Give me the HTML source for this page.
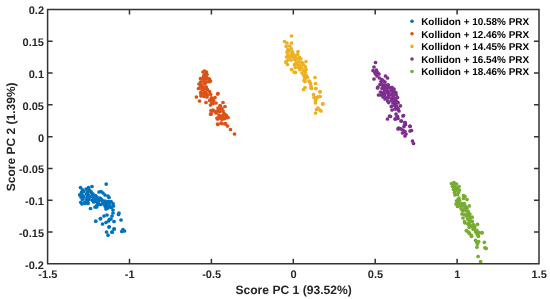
<!DOCTYPE html>
<html><head><meta charset="utf-8"><title>PCA score plot</title>
<style>html,body{margin:0;padding:0;background:#fff;width:550px;height:299px;overflow:hidden}svg{display:block}</style>
</head><body>
<svg width="550" height="299" viewBox="0 0 550 299" font-family="Liberation Sans, Arial, sans-serif" font-weight="bold" text-rendering="geometricPrecision">
<rect width="550" height="299" fill="#fff"/>
<g fill="#0072BD"><circle cx="93.0" cy="194.0" r="1.85"/><circle cx="95.5" cy="195.5" r="1.85"/><circle cx="91.5" cy="192.5" r="1.85"/><circle cx="97.0" cy="197.0" r="1.85"/><circle cx="80.5" cy="187.5" r="1.85"/><circle cx="88.5" cy="187.5" r="1.85"/><circle cx="92.0" cy="186.5" r="1.85"/><circle cx="106.2" cy="184.1" r="1.85"/><circle cx="101.0" cy="191.5" r="1.85"/><circle cx="103.0" cy="193.0" r="1.85"/><circle cx="105.0" cy="195.0" r="1.85"/><circle cx="108.0" cy="196.0" r="1.85"/><circle cx="109.0" cy="197.5" r="1.85"/><circle cx="100.0" cy="198.0" r="1.85"/><circle cx="97.0" cy="199.0" r="1.85"/><circle cx="95.0" cy="200.0" r="1.85"/><circle cx="102.0" cy="200.0" r="1.85"/><circle cx="105.0" cy="201.0" r="1.85"/><circle cx="108.0" cy="201.5" r="1.85"/><circle cx="111.0" cy="201.5" r="1.85"/><circle cx="113.0" cy="203.5" r="1.85"/><circle cx="113.5" cy="206.0" r="1.85"/><circle cx="111.0" cy="207.0" r="1.85"/><circle cx="107.0" cy="204.0" r="1.85"/><circle cx="105.0" cy="206.0" r="1.85"/><circle cx="108.0" cy="208.0" r="1.85"/><circle cx="97.0" cy="205.0" r="1.85"/><circle cx="95.0" cy="207.0" r="1.85"/><circle cx="90.5" cy="208.5" r="1.85"/><circle cx="96.5" cy="207.0" r="1.85"/><circle cx="99.0" cy="192.0" r="1.85"/><circle cx="82.0" cy="204.0" r="1.85"/><circle cx="85.0" cy="203.5" r="1.85"/><circle cx="88.0" cy="203.5" r="1.85"/><circle cx="93.6" cy="202.0" r="1.85"/><circle cx="96.6" cy="206.5" r="1.85"/><circle cx="98.6" cy="204.5" r="1.85"/><circle cx="106.0" cy="209.0" r="1.85"/><circle cx="113.0" cy="210.0" r="1.85"/><circle cx="113.0" cy="213.0" r="1.85"/><circle cx="112.0" cy="216.0" r="1.85"/><circle cx="111.0" cy="219.0" r="1.85"/><circle cx="107.0" cy="215.0" r="1.85"/><circle cx="104.0" cy="216.0" r="1.85"/><circle cx="100.5" cy="218.5" r="1.85"/><circle cx="119.0" cy="213.0" r="1.85"/><circle cx="118.5" cy="214.5" r="1.85"/><circle cx="121.0" cy="220.0" r="1.85"/><circle cx="114.0" cy="221.5" r="1.85"/><circle cx="108.5" cy="221.0" r="1.85"/><circle cx="106.0" cy="222.5" r="1.85"/><circle cx="102.5" cy="224.0" r="1.85"/><circle cx="109.0" cy="227.0" r="1.85"/><circle cx="114.0" cy="229.0" r="1.85"/><circle cx="106.5" cy="232.0" r="1.85"/><circle cx="112.0" cy="232.0" r="1.85"/><circle cx="123.0" cy="229.5" r="1.85"/><circle cx="124.5" cy="231.0" r="1.85"/><circle cx="95.8" cy="221.2" r="1.85"/><circle cx="100.4" cy="218.8" r="1.85"/><circle cx="109.6" cy="219.3" r="1.85"/><circle cx="121.8" cy="231.4" r="1.85"/><circle cx="108.0" cy="235.2" r="1.85"/><circle cx="112.2" cy="232.2" r="1.85"/><circle cx="114.2" cy="228.9" r="1.85"/><circle cx="109.2" cy="226.8" r="1.85"/><circle cx="82.4" cy="189.8" r="1.85"/><circle cx="86.1" cy="189.1" r="1.85"/><circle cx="88.8" cy="189.3" r="1.85"/><circle cx="81.5" cy="192.4" r="1.85"/><circle cx="83.8" cy="191.5" r="1.85"/><circle cx="87.7" cy="191.9" r="1.85"/><circle cx="90.6" cy="191.4" r="1.85"/><circle cx="79.7" cy="194.9" r="1.85"/><circle cx="82.5" cy="195.2" r="1.85"/><circle cx="86.3" cy="194.1" r="1.85"/><circle cx="88.2" cy="194.7" r="1.85"/><circle cx="92.3" cy="194.5" r="1.85"/><circle cx="81.0" cy="197.1" r="1.85"/><circle cx="83.7" cy="196.9" r="1.85"/><circle cx="87.2" cy="197.2" r="1.85"/><circle cx="90.0" cy="196.9" r="1.85"/><circle cx="93.0" cy="197.2" r="1.85"/><circle cx="82.5" cy="199.3" r="1.85"/><circle cx="86.2" cy="199.9" r="1.85"/><circle cx="89.0" cy="199.5" r="1.85"/><circle cx="92.4" cy="200.3" r="1.85"/><circle cx="80.8" cy="202.3" r="1.85"/><circle cx="84.6" cy="202.7" r="1.85"/><circle cx="87.8" cy="202.4" r="1.85"/><circle cx="95.2" cy="199.1" r="1.85"/><circle cx="97.6" cy="199.0" r="1.85"/><circle cx="101.3" cy="199.3" r="1.85"/><circle cx="96.3" cy="201.6" r="1.85"/><circle cx="98.7" cy="201.2" r="1.85"/><circle cx="102.7" cy="201.4" r="1.85"/><circle cx="104.9" cy="201.6" r="1.85"/><circle cx="108.5" cy="201.7" r="1.85"/><circle cx="97.6" cy="204.1" r="1.85"/><circle cx="100.8" cy="204.5" r="1.85"/><circle cx="103.8" cy="204.0" r="1.85"/><circle cx="106.8" cy="203.6" r="1.85"/><circle cx="109.3" cy="204.4" r="1.85"/><circle cx="105.9" cy="206.9" r="1.85"/><circle cx="108.2" cy="206.3" r="1.85"/><circle cx="111.3" cy="207.3" r="1.85"/></g><g fill="#D95319"><circle cx="204.5" cy="71.0" r="1.85"/><circle cx="203.0" cy="72.0" r="1.85"/><circle cx="206.5" cy="72.0" r="1.85"/><circle cx="207.0" cy="74.5" r="1.85"/><circle cx="204.0" cy="75.5" r="1.85"/><circle cx="200.5" cy="78.5" r="1.85"/><circle cx="203.0" cy="78.5" r="1.85"/><circle cx="207.0" cy="78.5" r="1.85"/><circle cx="209.5" cy="79.0" r="1.85"/><circle cx="210.5" cy="81.0" r="1.85"/><circle cx="199.0" cy="84.0" r="1.85"/><circle cx="198.5" cy="88.5" r="1.85"/><circle cx="218.0" cy="93.5" r="1.85"/><circle cx="201.0" cy="96.0" r="1.85"/><circle cx="204.0" cy="96.5" r="1.85"/><circle cx="207.0" cy="97.0" r="1.85"/><circle cx="196.4" cy="97.0" r="1.85"/><circle cx="199.5" cy="101.0" r="1.85"/><circle cx="217.6" cy="94.0" r="1.85"/><circle cx="206.0" cy="102.5" r="1.85"/><circle cx="210.0" cy="100.5" r="1.85"/><circle cx="213.0" cy="99.0" r="1.85"/><circle cx="215.0" cy="97.5" r="1.85"/><circle cx="210.5" cy="105.0" r="1.85"/><circle cx="213.0" cy="103.5" r="1.85"/><circle cx="216.0" cy="103.0" r="1.85"/><circle cx="211.0" cy="110.5" r="1.85"/><circle cx="214.0" cy="111.0" r="1.85"/><circle cx="210.5" cy="114.0" r="1.85"/><circle cx="218.0" cy="108.0" r="1.85"/><circle cx="220.6" cy="106.0" r="1.85"/><circle cx="217.0" cy="112.0" r="1.85"/><circle cx="219.0" cy="115.0" r="1.85"/><circle cx="217.0" cy="118.0" r="1.85"/><circle cx="221.0" cy="117.0" r="1.85"/><circle cx="223.0" cy="102.5" r="1.85"/><circle cx="220.0" cy="105.5" r="1.85"/><circle cx="225.0" cy="106.5" r="1.85"/><circle cx="222.0" cy="108.5" r="1.85"/><circle cx="219.5" cy="109.0" r="1.85"/><circle cx="217.5" cy="111.0" r="1.85"/><circle cx="216.0" cy="113.0" r="1.85"/><circle cx="213.0" cy="110.0" r="1.85"/><circle cx="211.0" cy="114.0" r="1.85"/><circle cx="223.0" cy="111.0" r="1.85"/><circle cx="224.0" cy="114.0" r="1.85"/><circle cx="221.5" cy="116.0" r="1.85"/><circle cx="226.5" cy="116.0" r="1.85"/><circle cx="227.5" cy="117.5" r="1.85"/><circle cx="224.5" cy="118.5" r="1.85"/><circle cx="218.0" cy="118.5" r="1.85"/><circle cx="220.0" cy="118.0" r="1.85"/><circle cx="217.5" cy="124.0" r="1.85"/><circle cx="221.0" cy="123.0" r="1.85"/><circle cx="225.0" cy="124.0" r="1.85"/><circle cx="211.0" cy="114.0" r="1.85"/><circle cx="212.0" cy="111.0" r="1.85"/><circle cx="217.5" cy="119.0" r="1.85"/><circle cx="220.0" cy="117.0" r="1.85"/><circle cx="223.0" cy="116.0" r="1.85"/><circle cx="226.0" cy="115.0" r="1.85"/><circle cx="228.0" cy="117.5" r="1.85"/><circle cx="225.0" cy="118.5" r="1.85"/><circle cx="222.0" cy="119.5" r="1.85"/><circle cx="224.0" cy="113.5" r="1.85"/><circle cx="216.0" cy="111.5" r="1.85"/><circle cx="220.0" cy="111.5" r="1.85"/><circle cx="218.0" cy="124.5" r="1.85"/><circle cx="222.0" cy="123.5" r="1.85"/><circle cx="225.5" cy="123.5" r="1.85"/><circle cx="227.5" cy="126.0" r="1.85"/><circle cx="230.5" cy="129.5" r="1.85"/><circle cx="234.5" cy="134.0" r="1.85"/><circle cx="205.1" cy="74.0" r="1.85"/><circle cx="203.7" cy="76.2" r="1.85"/><circle cx="206.3" cy="77.1" r="1.85"/><circle cx="201.9" cy="79.1" r="1.85"/><circle cx="204.5" cy="79.2" r="1.85"/><circle cx="208.3" cy="78.5" r="1.85"/><circle cx="200.6" cy="82.1" r="1.85"/><circle cx="203.8" cy="82.0" r="1.85"/><circle cx="206.7" cy="81.8" r="1.85"/><circle cx="209.4" cy="81.7" r="1.85"/><circle cx="201.3" cy="84.8" r="1.85"/><circle cx="204.9" cy="84.0" r="1.85"/><circle cx="200.3" cy="86.9" r="1.85"/><circle cx="203.1" cy="86.8" r="1.85"/><circle cx="206.3" cy="87.1" r="1.85"/><circle cx="201.9" cy="89.5" r="1.85"/><circle cx="204.2" cy="89.2" r="1.85"/><circle cx="207.4" cy="89.7" r="1.85"/><circle cx="200.7" cy="92.5" r="1.85"/><circle cx="203.7" cy="92.6" r="1.85"/><circle cx="206.0" cy="92.6" r="1.85"/><circle cx="209.5" cy="91.7" r="1.85"/><circle cx="201.2" cy="94.2" r="1.85"/><circle cx="205.1" cy="94.5" r="1.85"/><circle cx="207.3" cy="94.9" r="1.85"/><circle cx="210.6" cy="94.3" r="1.85"/><circle cx="211.4" cy="97.9" r="1.85"/><circle cx="209.9" cy="100.2" r="1.85"/><circle cx="213.6" cy="100.5" r="1.85"/><circle cx="211.6" cy="103.1" r="1.85"/></g><g fill="#EDB120"><circle cx="291.5" cy="36.0" r="1.85"/><circle cx="284.5" cy="41.5" r="1.85"/><circle cx="287.0" cy="43.0" r="1.85"/><circle cx="291.5" cy="43.0" r="1.85"/><circle cx="298.0" cy="51.5" r="1.85"/><circle cx="306.0" cy="61.5" r="1.85"/><circle cx="286.0" cy="61.5" r="1.85"/><circle cx="286.0" cy="62.5" r="1.85"/><circle cx="287.5" cy="64.5" r="1.85"/><circle cx="291.5" cy="69.5" r="1.85"/><circle cx="294.0" cy="72.0" r="1.85"/><circle cx="305.0" cy="79.0" r="1.85"/><circle cx="309.0" cy="81.0" r="1.85"/><circle cx="295.5" cy="72.5" r="1.85"/><circle cx="304.0" cy="80.5" r="1.85"/><circle cx="305.0" cy="81.5" r="1.85"/><circle cx="315.0" cy="77.5" r="1.85"/><circle cx="309.5" cy="81.5" r="1.85"/><circle cx="310.5" cy="83.5" r="1.85"/><circle cx="311.0" cy="86.0" r="1.85"/><circle cx="311.0" cy="88.0" r="1.85"/><circle cx="315.5" cy="83.5" r="1.85"/><circle cx="316.0" cy="88.5" r="1.85"/><circle cx="305.0" cy="87.5" r="1.85"/><circle cx="303.5" cy="89.5" r="1.85"/><circle cx="320.0" cy="91.5" r="1.85"/><circle cx="313.5" cy="94.5" r="1.85"/><circle cx="314.5" cy="97.5" r="1.85"/><circle cx="317.5" cy="97.0" r="1.85"/><circle cx="319.5" cy="96.5" r="1.85"/><circle cx="316.0" cy="99.0" r="1.85"/><circle cx="311.5" cy="88.5" r="1.85"/><circle cx="315.5" cy="88.5" r="1.85"/><circle cx="320.0" cy="92.0" r="1.85"/><circle cx="314.0" cy="97.5" r="1.85"/><circle cx="317.0" cy="97.5" r="1.85"/><circle cx="320.0" cy="96.5" r="1.85"/><circle cx="315.5" cy="100.5" r="1.85"/><circle cx="315.5" cy="103.0" r="1.85"/><circle cx="322.5" cy="104.0" r="1.85"/><circle cx="318.0" cy="108.0" r="1.85"/><circle cx="316.5" cy="109.5" r="1.85"/><circle cx="321.0" cy="111.0" r="1.85"/><circle cx="315.5" cy="113.0" r="1.85"/><circle cx="320.0" cy="110.0" r="1.85"/><circle cx="323.0" cy="103.8" r="1.85"/><circle cx="286.2" cy="46.3" r="1.85"/><circle cx="289.7" cy="46.0" r="1.85"/><circle cx="287.8" cy="49.5" r="1.85"/><circle cx="291.3" cy="48.7" r="1.85"/><circle cx="286.9" cy="52.0" r="1.85"/><circle cx="289.2" cy="51.1" r="1.85"/><circle cx="292.4" cy="51.9" r="1.85"/><circle cx="287.9" cy="54.5" r="1.85"/><circle cx="291.5" cy="54.3" r="1.85"/><circle cx="294.0" cy="54.8" r="1.85"/><circle cx="297.7" cy="54.3" r="1.85"/><circle cx="286.5" cy="57.0" r="1.85"/><circle cx="289.7" cy="56.9" r="1.85"/><circle cx="292.6" cy="57.0" r="1.85"/><circle cx="295.3" cy="56.6" r="1.85"/><circle cx="299.4" cy="57.3" r="1.85"/><circle cx="288.1" cy="59.9" r="1.85"/><circle cx="291.1" cy="60.0" r="1.85"/><circle cx="294.6" cy="59.4" r="1.85"/><circle cx="297.0" cy="58.9" r="1.85"/><circle cx="300.8" cy="58.9" r="1.85"/><circle cx="296.2" cy="62.6" r="1.85"/><circle cx="298.9" cy="61.7" r="1.85"/><circle cx="302.2" cy="62.6" r="1.85"/><circle cx="294.5" cy="64.7" r="1.85"/><circle cx="297.2" cy="64.5" r="1.85"/><circle cx="299.9" cy="64.9" r="1.85"/><circle cx="303.2" cy="64.3" r="1.85"/><circle cx="295.3" cy="67.5" r="1.85"/><circle cx="298.6" cy="67.3" r="1.85"/><circle cx="301.6" cy="67.7" r="1.85"/><circle cx="305.3" cy="66.7" r="1.85"/><circle cx="299.9" cy="69.7" r="1.85"/><circle cx="303.9" cy="70.2" r="1.85"/><circle cx="306.1" cy="69.6" r="1.85"/><circle cx="302.0" cy="72.9" r="1.85"/><circle cx="305.3" cy="72.3" r="1.85"/><circle cx="303.8" cy="75.3" r="1.85"/><circle cx="306.3" cy="75.7" r="1.85"/><circle cx="304.5" cy="78.0" r="1.85"/><circle cx="307.3" cy="77.3" r="1.85"/></g><g fill="#7E2F8E"><circle cx="395.5" cy="93.0" r="1.85"/><circle cx="397.5" cy="97.5" r="1.85"/><circle cx="381.0" cy="95.0" r="1.85"/><circle cx="383.0" cy="97.0" r="1.85"/><circle cx="382.5" cy="93.5" r="1.85"/><circle cx="385.0" cy="99.0" r="1.85"/><circle cx="384.0" cy="95.5" r="1.85"/><circle cx="380.5" cy="92.0" r="1.85"/><circle cx="375.5" cy="62.5" r="1.85"/><circle cx="374.0" cy="67.0" r="1.85"/><circle cx="373.0" cy="70.5" r="1.85"/><circle cx="376.5" cy="70.0" r="1.85"/><circle cx="374.5" cy="72.0" r="1.85"/><circle cx="377.5" cy="72.5" r="1.85"/><circle cx="379.0" cy="74.0" r="1.85"/><circle cx="375.5" cy="74.0" r="1.85"/><circle cx="377.0" cy="76.0" r="1.85"/><circle cx="385.5" cy="76.0" r="1.85"/><circle cx="387.5" cy="78.0" r="1.85"/><circle cx="374.0" cy="79.0" r="1.85"/><circle cx="379.5" cy="78.0" r="1.85"/><circle cx="382.0" cy="79.5" r="1.85"/><circle cx="383.5" cy="81.0" r="1.85"/><circle cx="381.0" cy="81.5" r="1.85"/><circle cx="385.0" cy="82.0" r="1.85"/><circle cx="380.0" cy="84.5" r="1.85"/><circle cx="382.0" cy="85.0" r="1.85"/><circle cx="378.0" cy="87.0" r="1.85"/><circle cx="384.5" cy="86.0" r="1.85"/><circle cx="387.0" cy="85.5" r="1.85"/><circle cx="389.0" cy="87.0" r="1.85"/><circle cx="392.0" cy="87.5" r="1.85"/><circle cx="382.0" cy="88.5" r="1.85"/><circle cx="386.0" cy="88.5" r="1.85"/><circle cx="394.0" cy="89.0" r="1.85"/><circle cx="377.5" cy="88.0" r="1.85"/><circle cx="378.5" cy="95.0" r="1.85"/><circle cx="392.0" cy="110.0" r="1.85"/><circle cx="395.0" cy="109.0" r="1.85"/><circle cx="398.0" cy="109.5" r="1.85"/><circle cx="399.0" cy="111.0" r="1.85"/><circle cx="396.0" cy="114.0" r="1.85"/><circle cx="397.5" cy="116.5" r="1.85"/><circle cx="395.0" cy="119.0" r="1.85"/><circle cx="389.5" cy="116.0" r="1.85"/><circle cx="387.5" cy="119.0" r="1.85"/><circle cx="403.5" cy="115.5" r="1.85"/><circle cx="401.0" cy="121.0" r="1.85"/><circle cx="405.0" cy="122.5" r="1.85"/><circle cx="405.5" cy="124.5" r="1.85"/><circle cx="404.0" cy="126.5" r="1.85"/><circle cx="410.0" cy="126.5" r="1.85"/><circle cx="398.5" cy="128.0" r="1.85"/><circle cx="401.0" cy="129.0" r="1.85"/><circle cx="390.5" cy="116.5" r="1.85"/><circle cx="397.0" cy="116.5" r="1.85"/><circle cx="395.5" cy="119.0" r="1.85"/><circle cx="398.0" cy="118.5" r="1.85"/><circle cx="403.0" cy="116.0" r="1.85"/><circle cx="401.5" cy="121.0" r="1.85"/><circle cx="405.0" cy="122.5" r="1.85"/><circle cx="404.5" cy="125.0" r="1.85"/><circle cx="410.0" cy="126.0" r="1.85"/><circle cx="398.0" cy="129.0" r="1.85"/><circle cx="400.0" cy="128.5" r="1.85"/><circle cx="403.0" cy="130.0" r="1.85"/><circle cx="405.0" cy="131.5" r="1.85"/><circle cx="402.5" cy="133.0" r="1.85"/><circle cx="406.0" cy="134.0" r="1.85"/><circle cx="405.0" cy="136.0" r="1.85"/><circle cx="410.0" cy="131.0" r="1.85"/><circle cx="411.5" cy="130.5" r="1.85"/><circle cx="412.5" cy="141.0" r="1.85"/><circle cx="413.5" cy="143.5" r="1.85"/><circle cx="382.3" cy="84.6" r="1.85"/><circle cx="385.1" cy="85.0" r="1.85"/><circle cx="388.2" cy="84.8" r="1.85"/><circle cx="383.1" cy="87.3" r="1.85"/><circle cx="386.7" cy="87.6" r="1.85"/><circle cx="389.8" cy="88.0" r="1.85"/><circle cx="391.9" cy="87.6" r="1.85"/><circle cx="384.3" cy="89.6" r="1.85"/><circle cx="387.3" cy="90.6" r="1.85"/><circle cx="391.1" cy="90.5" r="1.85"/><circle cx="393.6" cy="90.3" r="1.85"/><circle cx="383.6" cy="92.6" r="1.85"/><circle cx="386.4" cy="92.4" r="1.85"/><circle cx="388.8" cy="92.5" r="1.85"/><circle cx="392.8" cy="92.8" r="1.85"/><circle cx="395.8" cy="92.7" r="1.85"/><circle cx="384.5" cy="95.7" r="1.85"/><circle cx="388.2" cy="94.8" r="1.85"/><circle cx="391.0" cy="94.9" r="1.85"/><circle cx="393.3" cy="95.8" r="1.85"/><circle cx="396.2" cy="95.0" r="1.85"/><circle cx="386.9" cy="97.9" r="1.85"/><circle cx="388.8" cy="97.6" r="1.85"/><circle cx="392.0" cy="98.3" r="1.85"/><circle cx="394.8" cy="98.5" r="1.85"/><circle cx="387.7" cy="101.1" r="1.85"/><circle cx="391.3" cy="100.3" r="1.85"/><circle cx="393.5" cy="100.5" r="1.85"/><circle cx="396.3" cy="100.8" r="1.85"/><circle cx="388.7" cy="102.6" r="1.85"/><circle cx="392.9" cy="102.9" r="1.85"/><circle cx="395.4" cy="103.1" r="1.85"/><circle cx="398.1" cy="102.7" r="1.85"/><circle cx="391.3" cy="106.4" r="1.85"/><circle cx="394.4" cy="105.3" r="1.85"/><circle cx="396.5" cy="105.9" r="1.85"/><circle cx="400.4" cy="105.8" r="1.85"/><circle cx="395.5" cy="108.6" r="1.85"/><circle cx="398.0" cy="108.4" r="1.85"/></g><g fill="#77AC30"><circle cx="456.0" cy="204.0" r="1.85"/><circle cx="457.5" cy="206.5" r="1.85"/><circle cx="459.0" cy="203.5" r="1.85"/><circle cx="456.5" cy="201.0" r="1.85"/><circle cx="462.0" cy="214.0" r="1.85"/><circle cx="463.0" cy="218.0" r="1.85"/><circle cx="464.5" cy="221.5" r="1.85"/><circle cx="451.5" cy="183.5" r="1.85"/><circle cx="454.0" cy="182.5" r="1.85"/><circle cx="456.5" cy="184.0" r="1.85"/><circle cx="459.0" cy="186.5" r="1.85"/><circle cx="452.5" cy="186.5" r="1.85"/><circle cx="455.0" cy="186.5" r="1.85"/><circle cx="457.5" cy="188.5" r="1.85"/><circle cx="453.5" cy="189.5" r="1.85"/><circle cx="456.0" cy="190.5" r="1.85"/><circle cx="458.5" cy="192.5" r="1.85"/><circle cx="454.5" cy="192.5" r="1.85"/><circle cx="455.0" cy="195.0" r="1.85"/><circle cx="457.5" cy="194.5" r="1.85"/><circle cx="453.0" cy="184.5" r="1.85"/><circle cx="455.5" cy="188.0" r="1.85"/><circle cx="459.5" cy="190.0" r="1.85"/><circle cx="463.5" cy="195.5" r="1.85"/><circle cx="465.0" cy="196.5" r="1.85"/><circle cx="463.5" cy="198.5" r="1.85"/><circle cx="467.0" cy="199.5" r="1.85"/><circle cx="459.0" cy="198.0" r="1.85"/><circle cx="458.0" cy="199.5" r="1.85"/><circle cx="464.8" cy="222.8" r="1.85"/><circle cx="468.5" cy="224.3" r="1.85"/><circle cx="473.0" cy="225.0" r="1.85"/><circle cx="477.5" cy="224.3" r="1.85"/><circle cx="474.5" cy="228.0" r="1.85"/><circle cx="470.0" cy="226.5" r="1.85"/><circle cx="476.8" cy="230.3" r="1.85"/><circle cx="482.0" cy="232.5" r="1.85"/><circle cx="479.0" cy="232.5" r="1.85"/><circle cx="467.0" cy="231.0" r="1.85"/><circle cx="469.3" cy="233.3" r="1.85"/><circle cx="471.5" cy="236.3" r="1.85"/><circle cx="478.3" cy="236.3" r="1.85"/><circle cx="466.3" cy="230.5" r="1.85"/><circle cx="468.8" cy="232.3" r="1.85"/><circle cx="471.3" cy="235.4" r="1.85"/><circle cx="473.2" cy="229.2" r="1.85"/><circle cx="475.6" cy="231.7" r="1.85"/><circle cx="478.1" cy="235.4" r="1.85"/><circle cx="481.8" cy="233.0" r="1.85"/><circle cx="476.9" cy="233.6" r="1.85"/><circle cx="475.6" cy="240.4" r="1.85"/><circle cx="476.9" cy="242.3" r="1.85"/><circle cx="477.5" cy="244.1" r="1.85"/><circle cx="476.9" cy="247.2" r="1.85"/><circle cx="478.7" cy="241.6" r="1.85"/><circle cx="484.3" cy="242.3" r="1.85"/><circle cx="484.9" cy="247.8" r="1.85"/><circle cx="486.2" cy="248.4" r="1.85"/><circle cx="478.1" cy="256.5" r="1.85"/><circle cx="480.6" cy="261.5" r="1.85"/><circle cx="459.6" cy="200.6" r="1.85"/><circle cx="457.8" cy="203.3" r="1.85"/><circle cx="461.9" cy="203.5" r="1.85"/><circle cx="464.5" cy="203.7" r="1.85"/><circle cx="460.3" cy="206.0" r="1.85"/><circle cx="462.6" cy="205.9" r="1.85"/><circle cx="465.6" cy="206.5" r="1.85"/><circle cx="469.3" cy="205.9" r="1.85"/><circle cx="461.1" cy="208.8" r="1.85"/><circle cx="464.4" cy="208.9" r="1.85"/><circle cx="467.0" cy="208.2" r="1.85"/><circle cx="462.5" cy="210.8" r="1.85"/><circle cx="465.9" cy="210.8" r="1.85"/><circle cx="468.3" cy="211.5" r="1.85"/><circle cx="464.0" cy="214.3" r="1.85"/><circle cx="467.3" cy="214.4" r="1.85"/><circle cx="469.9" cy="214.0" r="1.85"/><circle cx="466.2" cy="216.1" r="1.85"/><circle cx="469.3" cy="216.2" r="1.85"/><circle cx="472.1" cy="217.2" r="1.85"/><circle cx="467.7" cy="219.0" r="1.85"/><circle cx="469.8" cy="219.2" r="1.85"/><circle cx="469.3" cy="221.5" r="1.85"/><circle cx="472.3" cy="221.4" r="1.85"/><circle cx="467.8" cy="223.8" r="1.85"/><circle cx="470.1" cy="224.9" r="1.85"/><circle cx="473.7" cy="224.9" r="1.85"/><circle cx="469.2" cy="227.3" r="1.85"/><circle cx="472.0" cy="226.6" r="1.85"/><circle cx="474.7" cy="226.6" r="1.85"/></g>
<path d="M47.6 9.5H539.0V263.8H47.6ZM47.60 263.8v-5M47.60 9.5v5M129.50 263.8v-5M129.50 9.5v5M211.40 263.8v-5M211.40 9.5v5M293.30 263.8v-5M293.30 9.5v5M375.20 263.8v-5M375.20 9.5v5M457.10 263.8v-5M457.10 9.5v5M539.00 263.8v-5M539.00 9.5v5M47.6 263.80h5M539.0 263.80h-5M47.6 232.01h5M539.0 232.01h-5M47.6 200.23h5M539.0 200.23h-5M47.6 168.44h5M539.0 168.44h-5M47.6 136.65h5M539.0 136.65h-5M47.6 104.86h5M539.0 104.86h-5M47.6 73.07h5M539.0 73.07h-5M47.6 41.29h5M539.0 41.29h-5M47.6 9.50h5M539.0 9.50h-5" fill="none" stroke="#333333" stroke-width="1.5"/>
<g font-size="11" fill="#262626"><text x="47.85" y="278.2" text-anchor="middle">-1.5</text><text x="129.75" y="278.2" text-anchor="middle">-1</text><text x="211.65" y="278.2" text-anchor="middle">-0.5</text><text x="293.55" y="278.2" text-anchor="middle">0</text><text x="375.45" y="278.2" text-anchor="middle">0.5</text><text x="457.35" y="278.2" text-anchor="middle">1</text><text x="539.25" y="278.2" text-anchor="middle">1.5</text><text x="44" y="268.70" text-anchor="end">-0.2</text><text x="44" y="236.91" text-anchor="end">-0.15</text><text x="44" y="205.13" text-anchor="end">-0.1</text><text x="44" y="173.34" text-anchor="end">-0.05</text><text x="44" y="141.55" text-anchor="end">0</text><text x="44" y="109.76" text-anchor="end">0.05</text><text x="44" y="77.97" text-anchor="end">0.1</text><text x="44" y="46.19" text-anchor="end">0.15</text><text x="44" y="14.40" text-anchor="end">0.2</text></g>
<text x="293.6" y="293.5" text-anchor="middle" font-size="12.1" fill="#262626">Score PC 1 (93.52%)</text>
<text transform="translate(15.3 136.8) rotate(-90)" text-anchor="middle" font-size="12" fill="#262626">Score PC 2 (1.39%)</text>
<g><circle cx="412" cy="21.20" r="1.8" fill="#0072BD"/><text transform="translate(421.2 25.0) scale(0.993 1)" font-size="10" fill="#000">Kollidon + 10.58% PRX</text><circle cx="412" cy="33.79" r="1.8" fill="#D95319"/><text transform="translate(421.2 37.5) scale(0.993 1)" font-size="10" fill="#000">Kollidon + 12.46% PRX</text><circle cx="412" cy="46.38" r="1.8" fill="#EDB120"/><text transform="translate(421.2 50.0) scale(0.993 1)" font-size="10" fill="#000">Kollidon + 14.45% PRX</text><circle cx="412" cy="58.97" r="1.8" fill="#7E2F8E"/><text transform="translate(421.2 62.5) scale(0.993 1)" font-size="10" fill="#000">Kollidon + 16.54% PRX</text><circle cx="412" cy="71.56" r="1.8" fill="#77AC30"/><text transform="translate(421.2 75.0) scale(0.993 1)" font-size="10" fill="#000">Kollidon + 18.46% PRX</text></g>
</svg>
</body></html>
